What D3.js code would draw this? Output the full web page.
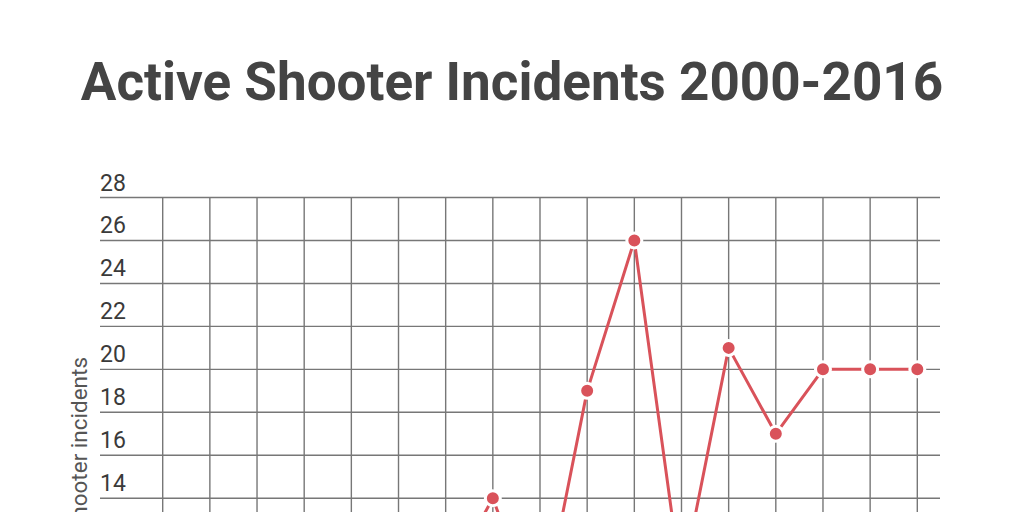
<!DOCTYPE html>
<meta charset="utf-8">
<title>Active Shooter Incidents 2000-2016</title>
<script src="https://d3js.org/d3.v7.min.js"></script>
<style>
  html, body { margin: 0; padding: 0; background: #fff; overflow: hidden; }
  body { width: 1024px; height: 512px; font-family: Roboto, sans-serif; }
</style>
<body>
<div id="chart"></div>
</body>
<script>
years = [2000, 2001, 2002, 2003, 2004, 2005, 2006, 2007, 2008, 2009, 2010, 2011, 2012, 2013, 2014, 2015, 2016]
incidents = [1, 6, 1, 5, 5, 8, 10, 14, 8, 19, 26, 10, 21, 17, 20, 20, 20]
yTicks = [0, 2, 4, 6, 8, 10, 12, 14, 16, 18, 20, 22, 24, 26, 28]

lineColor = "#d9525a"
textColor = "#444"
width = 1024
height = 900

svg = d3.select("#chart").append("svg")
    .attr("width", width)
    .attr("height", height)

svg.append("text")
    .attr("x", 512)
    .attr("y", 100)
    .attr("text-anchor", "middle")
    .attr("font-size", 53)
    .attr("font-weight", "bold")
    .attr("fill", textColor)
    .text("Active Shooter Incidents 2000-2016")

x = d3.scaleLinear()
    .domain([2000, 2016])
    .range([162.7, 917.3])

y = d3.scaleLinear()
    .domain([0, 28])
    .range([799, 197.5])

// plot edges for the horizontal grid
left = 100
right = 940

grid = svg.append("g")
    .attr("stroke", "#777")
    .attr("stroke-width", 1.4)

grid.selectAll("line.h")
  .data(yTicks)
  .join("line")
    .attr("class", "h")
    .attr("x1", left)
    .attr("x2", right)
    .attr("y1", d => y(d))
    .attr("y2", d => y(d))

grid.selectAll("line.v")
  .data(years)
  .join("line")
    .attr("class", "v")
    .attr("x1", d => x(d))
    .attr("x2", d => x(d))
    .attr("y1", y(28))
    .attr("y2", y(0))

svg.append("g")
    .attr("font-size", 23)
    .attr("fill", "#3a3a3a")
  .selectAll("text")
  .data(yTicks)
  .join("text")
    .attr("x", left)
    .attr("y", d => y(d) - 7)
    .text(d => d)

svg.append("g")
    .attr("font-size", 22)
    .attr("fill", textColor)
    .attr("text-anchor", "middle")
  .selectAll("text")
  .data(years)
  .join("text")
    .attr("x", d => x(d))
    .attr("y", y(0) + 30)
    .text(d => d)

svg.append("text")
    .attr("transform", "translate(87,357) rotate(-90)")
    .attr("text-anchor", "end")
    .attr("font-size", 22.5)
    .attr("fill", "#555")
    .text("Number of active shooter incidents")

line = d3.line()
    .x((d, i) => x(years[i]))
    .y(d => y(d))

svg.append("path")
    .datum(incidents)
    .attr("fill", "none")
    .attr("stroke", lineColor)
    .attr("stroke-width", 3)
    .attr("stroke-linejoin", "round")
    .attr("d", line)

svg.append("g")
  .selectAll("circle")
  .data(incidents)
  .join("circle")
    .attr("cx", (d, i) => x(years[i]))
    .attr("cy", d => y(d))
    .attr("r", 7.5)
    .attr("fill", lineColor)
    .attr("stroke", "#fff")
    .attr("stroke-width", 3)
</script>
